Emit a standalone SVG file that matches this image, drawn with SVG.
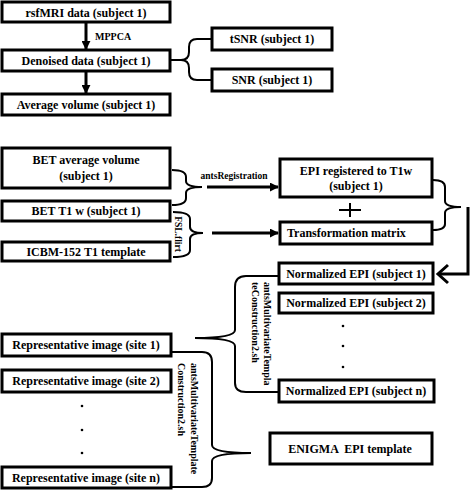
<svg xmlns="http://www.w3.org/2000/svg" width="474" height="494" viewBox="0 0 474 494">
<style>
.box{fill:#fff;stroke:#000;stroke-width:3}
.t{font-family:"Liberation Serif","Times New Roman",serif;font-weight:bold;font-size:12px;fill:#000;text-anchor:middle}
.s{font-family:"Liberation Serif","Times New Roman",serif;font-weight:bold;font-size:10px;fill:#000}
.br{fill:none;stroke:#000;stroke-width:2}
.ar{fill:none;stroke:#000;stroke-width:3}
</style>
<defs>
<marker id="ah" viewBox="0 0 10 10" refX="9" refY="5" markerWidth="9" markerHeight="9" markerUnits="userSpaceOnUse" orient="auto">
<path d="M0 0 L10 5 L0 10 z" fill="#000"/>
</marker>
</defs>
<rect width="474" height="494" fill="#fff"/>
<g id="n-rsfmri"><rect class="box" x="2" y="2" width="168" height="20"/><text class="t" x="86" y="17">rsfMRI data (subject 1)</text></g>
<g id="n-denoised"><rect class="box" x="2" y="50" width="168" height="21"/><text class="t" x="86" y="65">Denoised data (subject 1)</text></g>
<g id="n-average"><rect class="box" x="2" y="94" width="168" height="21"/><text class="t" x="86" y="109">Average volume (subject 1)</text></g>
<g id="n-tsnr"><rect class="box" x="212" y="28" width="120" height="22"/><text class="t" x="272" y="43">tSNR (subject 1)</text></g>
<g id="n-snr"><rect class="box" x="212" y="69" width="120" height="22"/><text class="t" x="272" y="84">SNR (subject 1)</text></g>
<g id="n-betavg"><rect class="box" x="2" y="148" width="168" height="40"/><text class="t" x="86" y="164">BET average volume</text><text class="t" x="86" y="180">(subject 1)</text></g>
<g id="n-bett1"><rect class="box" x="2" y="201" width="168" height="20"/><text class="t" x="86" y="215">BET T1 w (subject 1)</text></g>
<g id="n-icbm"><rect class="box" x="2" y="242" width="168" height="19"/><text class="t" x="86" y="256">ICBM-152 T1 template</text></g>
<g id="n-epireg"><rect class="box" x="280" y="159" width="152" height="38"/><text class="t" x="356" y="175">EPI registered to T1w</text><text class="t" x="356" y="190">(subject 1)</text></g>
<g id="n-plus"><path d="M339 210 H361 M350 203 V217" stroke="#000" stroke-width="2" fill="none"/></g>
<g id="n-transform"><rect class="box" x="280" y="222" width="152" height="22"/><text class="t" x="287" y="237" style="text-anchor:start">Transformation matrix</text></g>
<g id="n-norm1"><rect class="box" x="279" y="263" width="154" height="21"/><text class="t" x="356" y="278">Normalized EPI (subject 1)</text></g>
<g id="n-norm2"><rect class="box" x="279" y="293" width="154" height="20"/><text class="t" x="356" y="307">Normalized EPI (subject 2)</text></g>
<g id="n-normdots"><circle cx="343" cy="326" r="1.3"/><circle cx="343" cy="346" r="1.3"/><circle cx="343" cy="367" r="1.3"/></g>
<g id="n-normn"><rect class="box" x="279" y="380" width="155" height="22"/><text class="t" x="356" y="395">Normalized EPI (subject n)</text></g>
<g id="n-site1"><rect class="box" x="2" y="334" width="169" height="22"/><text class="t" x="86" y="349">Representative image (site 1)</text></g>
<g id="n-site2"><rect class="box" x="2" y="370" width="169" height="22"/><text class="t" x="86" y="385">Representative image (site 2)</text></g>
<g id="n-sitedots"><circle cx="82" cy="406" r="1.3"/><circle cx="82" cy="430" r="1.3"/><circle cx="82" cy="453" r="1.3"/></g>
<g id="n-siten"><rect class="box" x="2" y="467" width="169" height="21"/><text class="t" x="86" y="482">Representative image (site n)</text></g>
<g id="n-enigma"><rect class="box" x="270" y="433" width="162" height="31"/><text class="t" x="350" y="453" style="white-space:pre">ENIGMA  EPI template</text></g>
<g id="connectors">
<line class="ar" x1="86" y1="22" x2="86" y2="49" marker-end="url(#ah)"/>
<text class="s" x="95" y="40">MPPCA</text>
<line class="ar" x1="86" y1="71" x2="86" y2="93" marker-end="url(#ah)"/>
<path class="br" d="M171 60 L181 60 Q189 60 189 52 L189 47 Q189 39 197 39 L211 39 M181 60 Q189 60 189 68 L189 72 Q189 80 197 80 L211 80"/>
<path class="br" d="M172 170 Q186 170 186 177 L186 181 Q186 187 202 187 M202 187 Q186 187 186 193 L186 198 Q186 205 172 205"/>
<line class="ar" x1="207" y1="187" x2="278" y2="187" marker-end="url(#ah)"/>
<text class="s" x="234" y="179" style="text-anchor:middle;font-size:9.5px">antsRegistration</text>
<path class="br" d="M173 212 Q190 212 190 219 L190 227 Q190 233 203 233 M203 233 Q190 233 190 239 L190 250 Q190 257 173 257"/>
<text class="s" transform="translate(175,234) rotate(90)" style="text-anchor:middle;font-size:9.5px">FSL.flirt</text>
<line class="ar" x1="212" y1="233" x2="278" y2="233" marker-end="url(#ah)"/>
<path class="br" d="M433 180 Q445 180 445 187 L445 201 Q445 207 461 207 M461 207 Q445 207 445 213 L445 224 Q445 230 433 230"/>
<polyline class="ar" points="468,207 468,274 438,274"/>
<polyline class="ar" points="448,265 438,274 448,283"/>
<path class="br" d="M278 276 L246 276 Q235 276 235 287 L235 330 Q235 338 195 338 M195 338 Q235 338 235 346 L235 383 Q235 392 246 392 L278 392"/>
<text class="s" transform="translate(264,282) rotate(90)">antsMultivariateTempla</text>
<text class="s" transform="translate(252,282) rotate(90)">teConstruction2.sh</text>
<path class="br" d="M172 352 L202 352 Q212 352 212 362 L212 445 Q212 453 251 453 M251 453 Q212 453 212 461 L212 478 Q212 487 202 487 L172 487"/>
<text class="s" transform="translate(191,363) rotate(90)">antsMultivariateTemplate</text>
<text class="s" transform="translate(178,363) rotate(90)">Construction2.sh</text>
</g>
</svg>
